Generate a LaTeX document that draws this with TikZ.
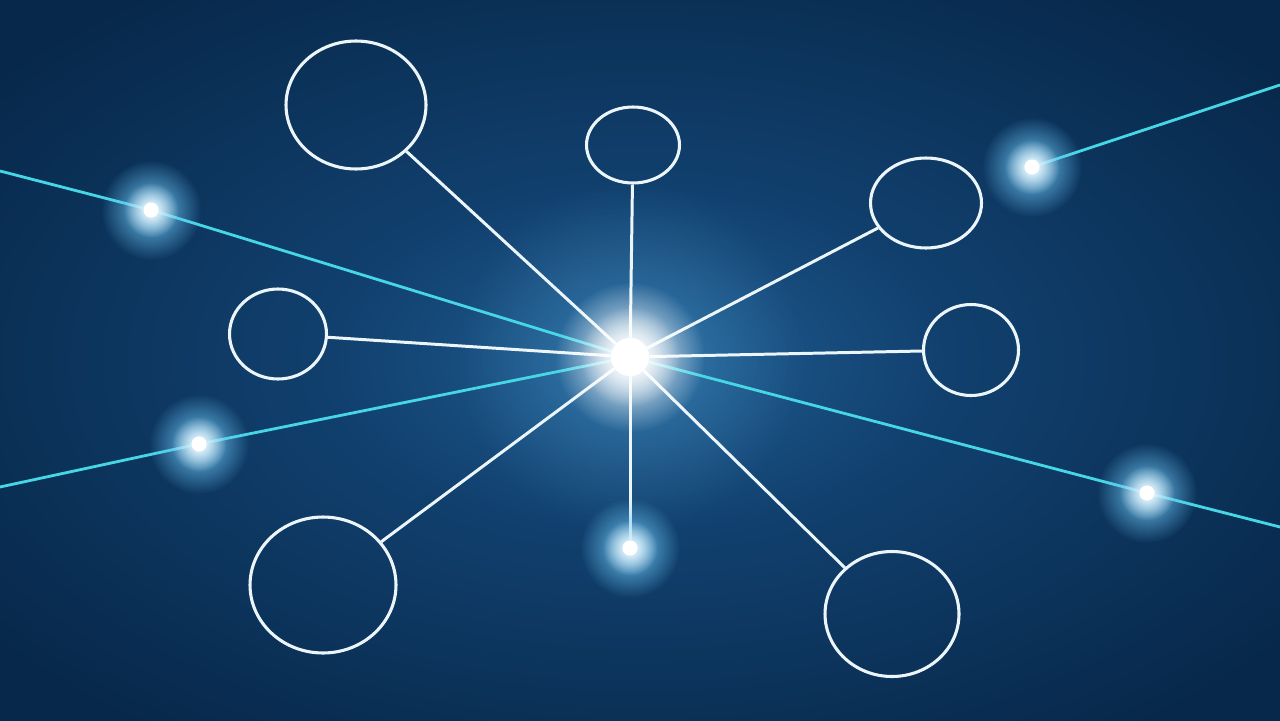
\documentclass[tikz,border=0pt]{standalone}
\usetikzlibrary{shapes.geometric,fadings}
\definecolor{bgin}{RGB}{32,94,148}
\definecolor{bgmid}{RGB}{17,64,110}
\definecolor{bgout}{RGB}{7,40,74}
\definecolor{linew}{RGB}{236,246,250}
\definecolor{rayc}{RGB}{70,214,230}
\definecolor{glowc}{RGB}{110,200,245}
\pgfdeclareradialshading{bgshade}{\pgfpoint{0bp}{0bp}}{color(0bp)=(bgin); color(12bp)=(bgmid); color(32bp)=(bgout); color(50bp)=(bgout)}
\tikzfading[name=glowfade, inner color=transparent!0, outer color=transparent!100]
\tikzset{
  bubble/.style={ellipse, draw=linew, line width=1.75pt, inner sep=0pt},
  spoke/.style={draw=linew, line width=1.7pt},
  ray/.style={draw=rayc, line width=1.6pt},
  hub/.style={circle, fill=white, minimum size=0.76cm, inner sep=0pt},
  spark/.style={circle, fill=white, minimum size=0.3cm, inner sep=0pt},
}
\newcommand\myglow[3]{\fill[#2, path fading=glowfade] (#1) circle[radius=#3];}
\begin{document}
\begin{tikzpicture}[x=0.02cm,y=-0.02cm]
\useasboundingbox (0,0) rectangle (1280,720);
\clip (0,0) rectangle (1280,720);
\shade[shading=bgshade] (0,0) rectangle (1280,720);
% soft halo around hub
\fill[glowc, opacity=0.3, path fading=glowfade] (630,357) circle[radius=3.5cm];
% nodes
\node[hub] (c) at (630,357) {};
\node[bubble, minimum width=2.8cm, minimum height=2.56cm] (e1) at (356,105) {};
\node[bubble, minimum width=1.86cm, minimum height=1.52cm] (e2) at (633,145) {};
\node[bubble, minimum width=2.22cm, minimum height=1.8cm] (e3) at (926,203) {};
\node[bubble, minimum width=1.9cm, minimum height=1.82cm] (e4) at (971,350) {};
\node[bubble, minimum width=1.94cm, minimum height=1.8cm] (e5) at (278,334) {};
\node[bubble, minimum width=2.92cm, minimum height=2.72cm] (e6) at (323,585) {};
\node[bubble, minimum width=2.68cm, minimum height=2.5cm] (e7) at (892,614) {};
\node[spark] (d1) at (151,210) {};
\node[spark] (d2) at (199,444) {};
\node[spark] (d3) at (1147,493) {};
\node[spark] (d4) at (1032,167) {};
\node[spark] (d5) at (630,548) {};
\coordinate (L1) at (0,171);
\coordinate (L2) at (0,487);
\coordinate (R1) at (1280,527);
\coordinate (R2) at (1280,85);
% cyan rays
\draw[ray] (L1) -- (d1) -- (c);
\draw[ray] (L2) -- (d2) -- (c);
\draw[ray] (c) -- (d3) -- (R1);
\draw[ray] (d4) -- (R2);
% white spokes
\foreach \e in {e1,e2,e3,e4,e5,e6,e7,d5} \draw[spoke] (c) -- (\e);
% glows
\myglow{c}{white}{1.5cm}
\myglow{c}{white}{1.0cm}
\foreach \d in {d1,d2,d3,d4,d5}{
  \myglow{\d}{glowc}{1.0cm}
  \myglow{\d}{white}{0.55cm}
}
\node[hub] at (c) {};
\foreach \d in {d1,d2,d3,d4,d5} \node[spark] at (\d) {};
\end{tikzpicture}
\end{document}
